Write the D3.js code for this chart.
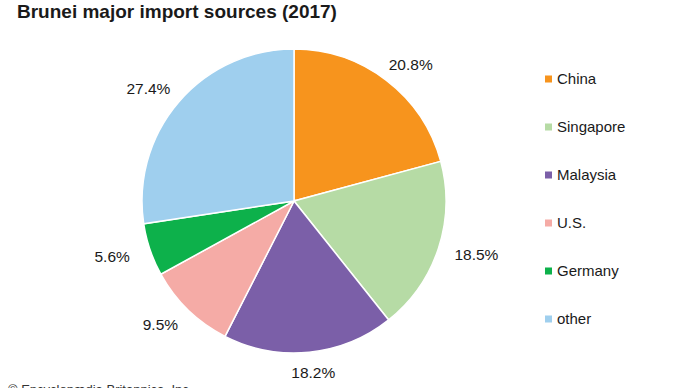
<!DOCTYPE html>
<html>
<head>
<meta charset="utf-8">
<script src="https://d3js.org/d3.v7.min.js"></script>
<style>
  body { margin: 0; background: #fff; }
  text { font-family: "Liberation Sans", Arial, sans-serif; fill: #1a1a1a; }
</style>
</head>
<body>
<svg width="690" height="388"></svg>
<script>
// data
var countries = ['China', 'Singapore', 'Malaysia', 'U.S.', 'Germany', 'other'];
var shares = [20.8, 18.5, 18.2, 9.5, 5.6, 27.4];
var colors = ['#f7941d', '#b6dba5', '#7b5fa8', '#f5aba6', '#0db14b', '#9fcfee'];

var svg = d3.select('svg');
var cx = 294, cy = 201, r = 152;

var data = countries.map(function(c, i) { return {name: c, value: shares[i]}; });
var color = d3.scaleOrdinal().domain(countries).range(colors);

var pie = d3.pie().sort(null).value(function(d) { return d.value; });
var arc = d3.arc().innerRadius(0).outerRadius(r);
var arcs = pie(data);

var g = svg.append('g').attr('transform', 'translate(' + cx + ',' + cy + ')');

g.selectAll('path')
  .data(arcs).enter().append('path')
  .attr('d', arc)
  .attr('fill', function(d) { return color(d.data.name); })
  .attr('stroke', '#fff')
  .attr('stroke-width', 1.5);

// percent labels around the pie
var rx = 192, ry = 172;
g.selectAll('text.pct')
  .data(arcs).enter().append('text')
  .attr('class', 'pct')
  .attr('x', function(d) { var a = (d.startAngle + d.endAngle) / 2; return rx * Math.sin(a); })
  .attr('y', function(d) { var a = (d.startAngle + d.endAngle) / 2; return -ry * Math.cos(a); })
  .attr('dy', '0.35em')
  .attr('text-anchor', 'middle')
  .style('font-size', '15.5px')
  .text(function(d) { return d.data.value.toFixed(1) + '%'; });

// legend
var ly = d3.scalePoint().domain(countries).range([79, 319]);
var legend = svg.append('g').selectAll('g')
  .data(countries).enter().append('g')
  .attr('transform', function(d) { return 'translate(545,' + ly(d) + ')'; });
legend.append('rect')
  .attr('x', 0).attr('y', -3.5)
  .attr('width', 7).attr('height', 7)
  .attr('fill', function(d) { return color(d); });
legend.append('text')
  .attr('x', 12).attr('dy', '0.35em')
  .style('font-size', '15px')
  .text(function(d) { return d; });

// title
svg.append('text')
  .attr('x', 17).attr('y', 18)
  .style('font-size', '19px')
  .style('font-weight', 'bold')
  .text('Brunei major import sources (2017)');

svg.append('text')
  .attr('x', 8).attr('y', 394)
  .style('font-size', '13px')
  .style('fill', '#333')
  .text('© Encyclopædia Britannica, Inc.');
</script>
</body>
</html>
